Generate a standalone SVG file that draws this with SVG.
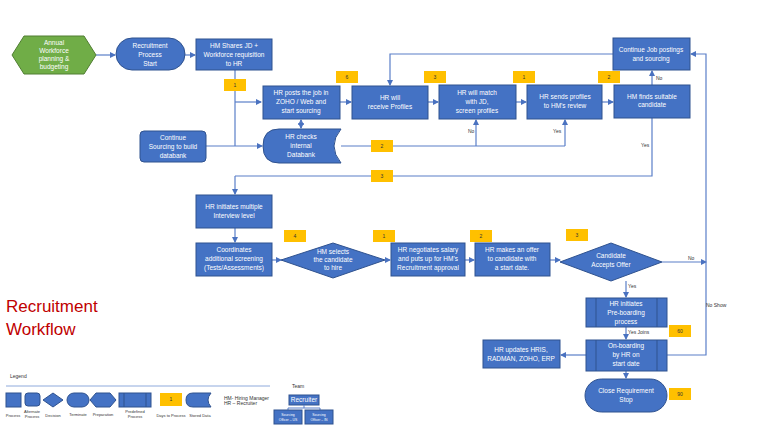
<svg xmlns="http://www.w3.org/2000/svg" width="768" height="433" viewBox="0 0 768 433">
<defs>
<marker id="ar" markerWidth="6" markerHeight="6" refX="5" refY="3" orient="auto" markerUnits="userSpaceOnUse"><path d="M0,0 L6,3 L0,6 z" fill="#4a72c0"/></marker>
<style>
.n{fill:#4472C4;stroke:#2F528F;stroke-width:1}
.t{font-family:"Liberation Sans",Arial,sans-serif;font-size:6.5px;fill:#fff;text-anchor:middle}
.b{fill:#FFC000}
.bt{font-family:"Liberation Sans",Arial,sans-serif;font-size:5px;fill:#333;text-anchor:middle}
.c{fill:none;stroke:#5a7fc8;stroke-width:1.2}
.a{marker-end:url(#ar)}
.l{font-family:"Liberation Sans",Arial,sans-serif;font-size:5px;fill:#333}
.lg{font-family:"Liberation Sans",Arial,sans-serif;font-size:4px;fill:#333;text-anchor:middle}
.tt{font-family:"Liberation Sans",Arial,sans-serif;font-size:3.4px;fill:#fff;text-anchor:middle}
</style>
</defs>
<rect width="768" height="433" fill="#fff"/>
<g id="connectors">
<path class="c a" d="M96,55 H115"/>
<path class="c a" d="M185,55 H195"/>
<path class="c" d="M235,70 V146"/>
<path class="c a" d="M235,102 H261"/>
<path class="c a" d="M206,146 H262"/>
<path class="c a" d="M340,102 H351"/>
<path class="c a" d="M428,102 H438"/>
<path class="c a" d="M516,102 H526"/>
<path class="c a" d="M602,102 H613"/>
<path class="c a" d="M301,128 V120"/><path class="c a" d="M301,120 V128"/>
<path class="c a" d="M652,85 V71"/>
<path class="c a" d="M613,54 H390 V85"/>
<path class="c" d="M341,146 H565"/>
<path class="c a" d="M476,146 V120"/>
<path class="c a" d="M565,146 V120"/>
<path class="c" d="M652,118 V176 H235"/>
<path class="c a" d="M235,176 V194"/>
<path class="c a" d="M235,228 V242"/>
<path class="c a" d="M272,260 H281"/>
<path class="c a" d="M385,260 H390"/>
<path class="c a" d="M465,260 H474"/>
<path class="c a" d="M550,260 H560"/>
<path class="c a" d="M662,262 H706"/>
<path class="c a" d="M626,281 V297"/>
<path class="c a" d="M626,327 V339"/>
<path class="c a" d="M586,355 H561"/>
<path class="c a" d="M626,371 V378"/>
<path class="c a" d="M667,355 H706 V54 H691"/>
</g>
<g id="labels-conn">
<text class="l" x="656" y="80">No</text>
<text class="l" x="468" y="133">No</text>
<text class="l" x="553" y="133">Yes</text>
<text class="l" x="641" y="147">Yes</text>
<text class="l" x="688" y="260">No</text>
<text class="l" x="628" y="288">Yes</text>
<text class="l" x="628" y="334">Yes Joins</text>
<text class="l" x="706" y="307">No Show</text>
</g>
<g id="annual"><polygon points="24,36 84,36 96,55 84,74 24,74 12,55" fill="#70AD47" stroke="#507E32"/><text class="t" x="54" y="45">Annual</text><text class="t" x="54" y="53">Workforce</text><text class="t" x="54" y="61">planning &amp;</text><text class="t" x="54" y="69">budgeting</text></g>
<g id="start"><rect class="n" x="116" y="38" width="69" height="32" rx="16"/><text class="t" x="150" y="48">Recruitment</text><text class="t" x="150" y="57">Process</text><text class="t" x="150" y="66">Start</text></g>
<g id="hmshares"><rect class="n" x="196" y="39" width="76" height="31"/><text class="t" x="234" y="48">HM Shares  JD +</text><text class="t" x="234" y="57">Workforce requisition</text><text class="t" x="234" y="66">to HR</text></g>
<g id="posts"><rect class="n" x="263" y="86" width="77" height="33"/><text class="t" x="301" y="95">HR posts the job in</text><text class="t" x="301" y="104">ZOHO / Web and</text><text class="t" x="301" y="113">start sourcing</text></g>
<g id="receive"><rect class="n" x="352" y="86" width="76" height="33"/><text class="t" x="390" y="100">HR will</text><text class="t" x="390" y="109">receive Profiles</text></g>
<g id="match"><rect class="n" x="439" y="85" width="77" height="34"/><text class="t" x="477" y="95">HR will match</text><text class="t" x="477" y="104">with JD,</text><text class="t" x="477" y="113">screen profiles</text></g>
<g id="sends"><rect class="n" x="527" y="85" width="75" height="34"/><text class="t" x="565" y="99">HR sends profiles</text><text class="t" x="565" y="108">to HM's review</text></g>
<g id="finds"><rect class="n" x="614" y="85" width="76" height="33"/><text class="t" x="652" y="99">HM finds suitable</text><text class="t" x="652" y="107">candidate</text></g>
<g id="continuejob"><rect class="n" x="613" y="38" width="77" height="32"/><text class="t" x="651" y="52">Continue Job postings</text><text class="t" x="651" y="61">and sourcing</text></g>
<g id="continuesrc"><rect class="n" x="140" y="131" width="66" height="31" rx="4"/><text class="t" x="173" y="140">Continue</text><text class="t" x="173" y="149">Sourcing to build</text><text class="t" x="173" y="158">databank</text></g>
<g id="databank"><path class="n" d="M279,129 H341 Q327,146 341,163 H279 Q263,163 263,146 Q263,129 279,129 z"/><text class="t" x="301" y="139">HR checks</text><text class="t" x="301" y="148">internal</text><text class="t" x="301" y="157">Databank</text></g>
<g id="interview"><rect class="n" x="196" y="195" width="76" height="33"/><text class="t" x="234" y="209">HR initiates multiple</text><text class="t" x="234" y="218">Interview level</text></g>
<g id="coord"><rect class="n" x="196" y="243" width="76" height="33"/><text class="t" x="234" y="252">Coordinates</text><text class="t" x="234" y="261">additional screening</text><text class="t" x="234" y="270">(Tests/Assessments)</text></g>
<g id="selects"><polygon class="n" points="333,243 385,260 333,278 281,260"/><text class="t" x="333" y="254">HM selects</text><text class="t" x="333" y="262">the candidate</text><text class="t" x="333" y="270">to hire</text></g>
<g id="negotiates"><rect class="n" x="391" y="243" width="74" height="33"/><text class="t" x="428" y="252">HR negotiates salary</text><text class="t" x="428" y="261">and puts up for HM's</text><text class="t" x="428" y="270">Recruitment approval</text></g>
<g id="offer"><rect class="n" x="475" y="243" width="75" height="33"/><text class="t" x="512" y="252">HR makes an offer</text><text class="t" x="512" y="261">to candidate with</text><text class="t" x="512" y="270">a start date.</text></g>
<g id="accepts"><polygon class="n" points="611,243 662,262 611,281 560,262"/><text class="t" x="611" y="258">Candidate</text><text class="t" x="611" y="267">Accepts Offer</text></g>
<g id="preboard"><rect class="n" x="586" y="298" width="81" height="29"/><path d="M596,298 V327 M657,298 V327" stroke="#2F528F" fill="none"/><text class="t" x="626" y="306">HR initiates</text><text class="t" x="626" y="315">Pre-boarding</text><text class="t" x="626" y="324">process</text></g>
<g id="onboard"><rect class="n" x="586" y="340" width="81" height="31"/><path d="M596,340 V371 M657,340 V371" stroke="#2F528F" fill="none"/><text class="t" x="626" y="348">On-boarding</text><text class="t" x="626" y="357">by HR on</text><text class="t" x="626" y="366">start date</text></g>
<g id="hris"><rect class="n" x="483" y="340" width="77" height="28"/><text class="t" x="521" y="352">HR updates HRIS,</text><text class="t" x="521" y="361">RADMAN, ZOHO, ERP</text></g>
<g id="close"><rect class="n" x="585" y="379" width="82" height="33" rx="16.5"/><text class="t" x="626" y="393">Close Requirement</text><text class="t" x="626" y="402">Stop</text></g>
<g id="badges">
<rect class="b" x="224" y="79" width="22" height="12"/><text class="bt" x="235" y="87">1</text>
<rect class="b" x="336" y="71" width="22" height="12"/><text class="bt" x="347" y="79">6</text>
<rect class="b" x="424" y="71" width="22" height="12"/><text class="bt" x="435" y="79">3</text>
<rect class="b" x="513" y="71" width="22" height="12"/><text class="bt" x="524" y="79">1</text>
<rect class="b" x="598" y="71" width="22" height="12"/><text class="bt" x="609" y="79">2</text>
<rect class="b" x="371" y="140" width="22" height="12"/><text class="bt" x="382" y="148">2</text>
<rect class="b" x="371" y="170" width="22" height="12"/><text class="bt" x="382" y="178">3</text>
<rect class="b" x="284" y="230" width="22" height="12"/><text class="bt" x="295" y="238">4</text>
<rect class="b" x="373" y="230" width="22" height="12"/><text class="bt" x="384" y="238">1</text>
<rect class="b" x="470" y="230" width="22" height="12"/><text class="bt" x="481" y="238">2</text>
<rect class="b" x="566" y="229" width="22" height="12"/><text class="bt" x="577" y="237">3</text>
<rect class="b" x="669" y="325" width="22" height="12"/><text class="bt" x="680" y="333">60</text>
<rect class="b" x="669" y="388" width="22" height="12"/><text class="bt" x="680" y="396">90</text>
</g>
<g id="title"><text x="6" y="312" font-family="Liberation Sans,Arial,sans-serif" font-size="17" fill="#C00000">Recruitment</text><text x="6" y="335" font-family="Liberation Sans,Arial,sans-serif" font-size="17" fill="#C00000">Workflow</text></g>
<g id="legend">
<text class="l" x="10" y="378">Legend</text>
<path d="M6,386 H270" stroke="#8faadc" stroke-width="1"/>
<rect class="n" x="6" y="393" width="15" height="14"/>
<rect class="n" x="25" y="393" width="15" height="13" rx="3"/>
<polygon class="n" points="53,393 63,400 53,407 43,400"/>
<rect class="n" x="67" y="393" width="22" height="14" rx="7"/>
<polygon class="n" points="96,393 110,393 116,400 110,407 96,407 90,400"/>
<rect class="n" x="119" y="393" width="32" height="14"/><path d="M124,393 V407 M146,393 V407" stroke="#2F528F"/>
<rect class="b" x="160" y="393" width="22" height="13"/><text class="bt" x="171" y="401">1</text>
<path class="n" d="M193,393 H211 Q205,400 211,407 H193 Q186,407 186,400 Q186,393 193,393 z"/>
<text class="lg" x="13" y="417">Process</text>
<text class="lg" x="32" y="413">Alternate</text><text class="lg" x="32" y="418">Process</text>
<text class="lg" x="53" y="417">Decision</text>
<text class="lg" x="78" y="416">Terminate</text>
<text class="lg" x="103" y="416">Preparation</text>
<text class="lg" x="135" y="413">Predefined</text><text class="lg" x="135" y="418">Process</text>
<text class="lg" x="171" y="417">Days to Process</text>
<text class="lg" x="200" y="417">Stored Data</text>
<text class="l" x="224" y="400" font-size="4.5">HM- Hiring Manager</text>
<text class="l" x="224" y="405" font-size="4.5">HR – Recruiter</text>
</g>
<g id="team">
<text class="l" x="292" y="388">Team</text>
<rect class="n" x="289" y="395" width="30" height="10"/><text class="t" x="304" y="402" font-size="4.5">Recruiter</text>
<path d="M304,405 V408 M288,408 H320 M288,408 V410 M320,408 V410" stroke="#5a7fc8" fill="none"/>
<rect class="n" x="274" y="410" width="28" height="14"/><text class="tt" x="288" y="416">Sourcing</text><text class="tt" x="288" y="421">Officer – US</text>
<rect class="n" x="305" y="410" width="28" height="14"/><text class="tt" x="319" y="416">Sourcing</text><text class="tt" x="319" y="421">Officer – IN</text>
</g>
</svg>
